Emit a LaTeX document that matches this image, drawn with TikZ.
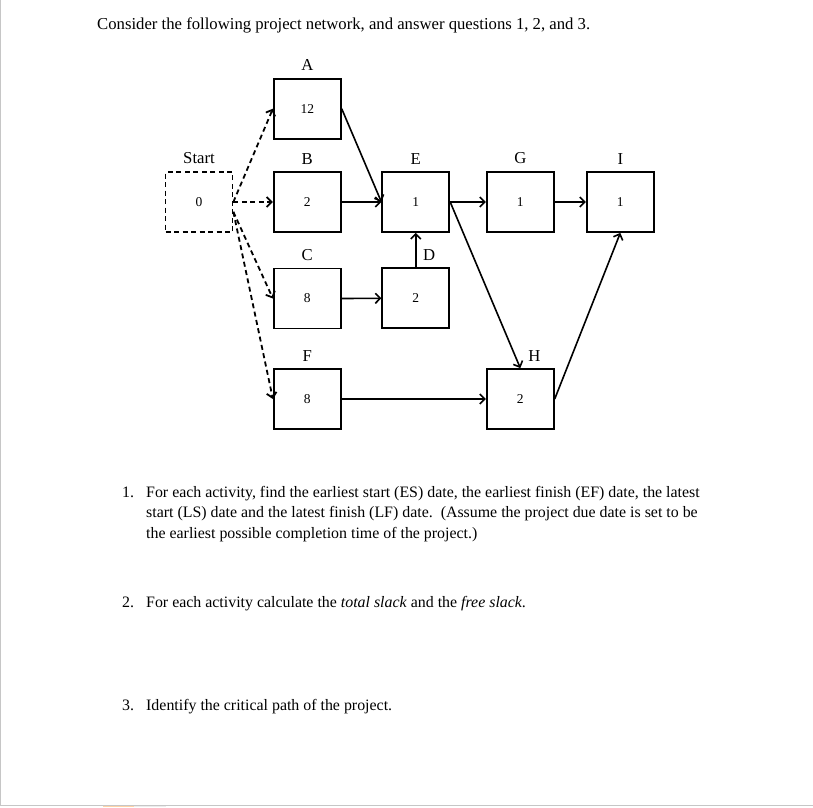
\documentclass[tikz,border=0pt]{standalone}
\usepackage{fontspec}
\setmainfont{Liberation Serif}
\usetikzlibrary{arrows.meta}
\begin{document}
\begin{tikzpicture}[x=1pt,y=-1pt,
  act/.style={draw,line width=1.8pt,minimum width=67pt,minimum height=60pt,
    inner sep=0pt,font=\fontsize{13.5}{16}\selectfont},
  startact/.style={act,line width=1.7pt,dash pattern=on 5pt off 3.5pt},
  lbl/.style={inner xsep=0pt,inner ysep=7pt,outer sep=0pt,font=\fontsize{16.7}{20}\selectfont},
  prec/.style={-{Straight Barb[length=5pt,width=10pt]},line width=1.6pt},
  dprec/.style={prec,line width=1.8pt,dash pattern=on 5pt off 3.5pt},
  txt/.style={anchor=base west,inner sep=0pt,font=\fontsize{15.9}{20}\selectfont}]
\useasboundingbox (0,0) rectangle (813,807);
% page edge
\draw[gray!45,line width=1pt] (0.5,0) -- (0.5,805.5) -- (813,805.5);
\fill[orange!35] (103,806) rectangle (134,807);
\fill[gray!15] (134,806) rectangle (166,807);
\node[txt,font=\fontsize{16.7}{20}\selectfont] (title) at (97,29) {Consider the following project network, and answer questions 1, 2, and 3.};
% activities
\node[startact,label={[lbl]above:Start}] (Start) at (199,202) {0};
\node[act,label={[lbl]above:A}] (A) at (307.3,108.7) {12};
\node[act,label={[lbl]above:B}] (B) at (307.3,202) {2};
\node[act,label={[lbl]above:C}] (C) at (307.3,298.5) {8};
\node[act,label={[lbl]above:F}] (F) at (307.3,399) {8};
\node[act,label={[lbl]above:E}] (E) at (415.8,202) {1};
\node[act,label={[lbl,xshift=13.4pt]above:D}] (D) at (415.8,298.3) {2};
\node[act,label={[lbl]above:G}] (G) at (520.3,202) {1};
\node[act,label={[lbl]above:I}] (I) at (620.3,202) {1};
\node[act,label={[lbl,xshift=14pt]above:H}] (H) at (520.3,399) {2};
% precedence
\draw[dprec] (Start.east) -- (A.west);
\draw[dprec] (Start.east) -- (B.west);
\draw[dprec] (Start.-16) -- (C.west);
\draw[dprec] (Start.-16) -- (F.west);
\draw[prec] (A.east) -- (E.west);
\draw[prec] (B.east) -- (E.west);
\draw[prec] (C.east) -- (D.west);
\draw[prec] (D.north) -- (E.south);
\draw[prec] (E.east) -- (G.west);
\draw[prec] (E.east) -- (H.north);
\draw[prec] (G.east) -- (I.west);
\draw[prec] (F.east) -- (H.west);
\draw[prec] (H.east) -- (I.south);
% questions
\node[txt] (n1) at (122,497) {1.};
\node[txt] (q1a) at (146,497) {For each activity, find the earliest start (ES) date, the earliest finish (EF) date, the latest};
\node[txt] (q1b) at (146,517.5) {start (LS) date and the latest finish (LF) date.\ \ (Assume the project due date is set to be};
\node[txt] (q1c) at (146,538) {the earliest possible completion time of the project.)};
\node[txt] (n2) at (122,607.5) {2.};
\node[txt] (q2) at (146,607.5) {For each activity calculate the \textit{total slack} and the \textit{free slack}.};
\node[txt] (n3) at (122,710) {3.};
\node[txt] (q3) at (146,710) {Identify the critical path of the project.};
\end{tikzpicture}
\end{document}
